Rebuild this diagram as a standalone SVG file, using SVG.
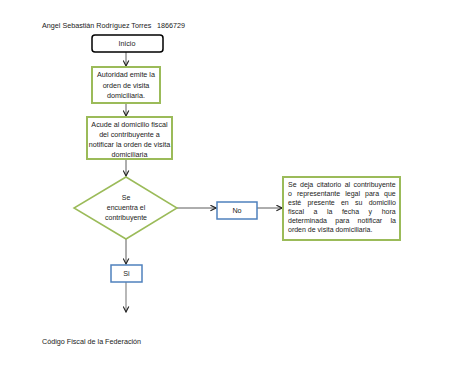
<svg xmlns="http://www.w3.org/2000/svg" width="474" height="366" viewBox="0 0 474 366">
<style>
text{font-family:"Liberation Sans",Arial,sans-serif;fill:#222;}
.t{font-size:7.2px;}
.s{font-size:7px;}
.c{text-anchor:middle;}
.g{fill:#fff;stroke:#9BBB59;stroke-width:2;}
.b{fill:#fff;stroke:#4F81BD;stroke-width:1.5;}
.k{fill:#fff;stroke:#000;stroke-width:1.5;}
.ln{fill:none;stroke:#333;stroke-width:0.8;}
</style>
<defs>
<marker id="ar" viewBox="0 0 10 10" refX="9" refY="5" markerWidth="7" markerHeight="7" orient="auto" markerUnits="userSpaceOnUse">
<path d="M1,1 L9,5 L1,9" fill="none" stroke="#222" stroke-width="1.6"/>
</marker>
</defs>
<rect width="474" height="366" fill="#fff"/>
<text class="t" x="42" y="28">Angel Sebastián Rodríguez Torres</text>
<text class="t" x="157" y="28">1866729</text>
<text class="t" x="42" y="344">Código Fiscal de la Federación</text>
<g id="connectors">
<line class="ln" x1="126" y1="52" x2="126" y2="66" marker-end="url(#ar)"/>
<line class="ln" x1="126" y1="103" x2="126" y2="116" marker-end="url(#ar)"/>
<line class="ln" x1="126" y1="159" x2="126" y2="176" marker-end="url(#ar)"/>
<line class="ln" x1="177" y1="208" x2="216" y2="208" marker-end="url(#ar)"/>
<line class="ln" x1="257" y1="208" x2="282" y2="208" marker-end="url(#ar)"/>
<line class="ln" x1="126" y1="239" x2="126" y2="264" marker-end="url(#ar)"/>
<line x1="126" y1="282" x2="126" y2="312" stroke="#888" stroke-width="1.2" marker-end="url(#ar)"/>
</g>
<g id="inicio">
<rect class="k" x="92" y="35" width="71" height="17" rx="3"/>
<text class="t c" x="127" y="46">Inicio</text>
</g>
<g id="autoridad">
<rect class="g" x="92" y="67" width="68" height="36"/>
<text class="t c" x="126" y="77">Autoridad emite la</text>
<text class="t c" x="126" y="87.5">orden de visita</text>
<text class="t c" x="126" y="98">domiciliaria.</text>
</g>
<g id="acude">
<rect class="g" x="87" y="117" width="85" height="42"/>
<text class="t c" x="129.5" y="126.5">Acude al domicilio fiscal</text>
<text class="t c" x="129.5" y="136.5">del contribuyente a</text>
<text class="t c" x="129.5" y="146.5">notificar la orden de visita</text>
<text class="t c" x="129.5" y="156.5">domiciliaria</text>
</g>
<g id="decision">
<polygon points="126,177 177,208 126,239 74,208" fill="#fff" stroke="#9BBB59" stroke-width="1.5"/>
<text class="s c" x="126" y="200">Se</text>
<text class="s c" x="126" y="210">encuentra el</text>
<text class="s c" x="126" y="220">contribuyente</text>
</g>
<g id="no">
<rect class="b" x="217" y="202" width="40" height="17"/>
<text class="t c" x="237" y="213">No</text>
</g>
<g id="citatorio">
<rect class="g" x="283" y="177" width="117" height="63"/>
<text class="s" x="288" y="187" style="word-spacing:1.5px">Se deja citatorio al contribuyente</text>
<text class="s" x="288" y="196" style="word-spacing:3.1px">o representante legal para que</text>
<text class="s" x="288" y="205" style="word-spacing:4.3px">esté presente en su domicilio</text>
<text class="s" x="288" y="214" style="word-spacing:7.6px">fiscal a la fecha y hora</text>
<text class="s" x="288" y="223" style="word-spacing:6.4px">determinada para notificar la</text>
<text class="s" x="288" y="232">orden de visita domiciliaria.</text>
</g>
<g id="si">
<rect class="b" x="111" y="265" width="31" height="17"/>
<text class="t c" x="126.5" y="276">Si</text>
</g>
</svg>
